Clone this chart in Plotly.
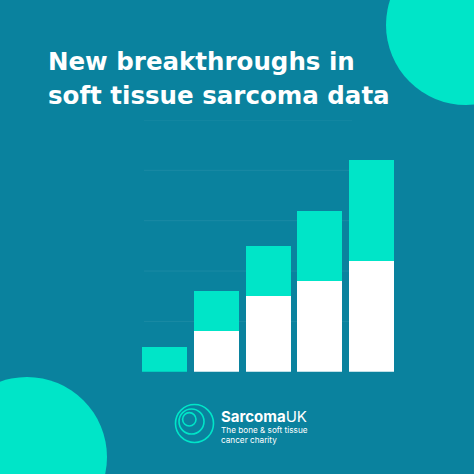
import plotly.graph_objects as go

# chart data
categories = ['1', '2', '3', '4', '5']
base_values = [0, 8, 15, 18, 22]      # white part
top_values = [5, 8, 10, 14, 20]       # cyan part on top
grid_levels = [10, 20, 30, 40, 50]

bg = '#0A829E'
cyan = '#00E5C8'
W = 474

def px(v):
    return v / W

fig = go.Figure()
fig.add_trace(go.Bar(x=categories, y=base_values, marker_color='white',
                     marker_line_width=0, name='base'))
fig.add_trace(go.Bar(x=categories, y=top_values, marker_color=cyan,
                     marker_line_width=0, name='top'))

shapes = []
# faint grid lines
for g in grid_levels:
    shapes.append(dict(type='line', xref='paper', yref='y', x0=px(144), x1=px(352),
                       y0=g, y1=g, line=dict(color='rgba(255,255,255,0.07)', width=1),
                       layer='below'))
# big decorative circles
shapes.append(dict(type='circle', xref='paper', yref='paper', x0=px(386), x1=px(546),
                   y0=px(W - 105), y1=px(W + 55), fillcolor=cyan, line_width=0, layer='below'))
shapes.append(dict(type='circle', xref='paper', yref='paper', x0=px(-53), x1=px(107),
                   y0=px(W - 537), y1=px(W - 377), fillcolor=cyan, line_width=0, layer='below'))
# logo rings
for cx, cy, r in [(194.5, 423.5, 19), (191.5, 421.5, 12.5), (189.3, 419.3, 6.7)]:
    shapes.append(dict(type='circle', xref='paper', yref='paper',
                       x0=px(cx - r), x1=px(cx + r), y0=px(W - cy - r), y1=px(W - cy + r),
                       line=dict(color=cyan, width=1.6)))

title_font = dict(size=24.5, color='white', family='DejaVu Sans')
small_font = dict(size=8.2, color='white', family='Inter')
annotations = [
    dict(text='<b>New breakthroughs in</b>', x=px(46), y=px(W - 62), xanchor='left',
         yanchor='middle', font=title_font),
    dict(text='<b>soft tissue sarcoma data</b>', x=px(46), y=px(W - 96), xanchor='left',
         yanchor='middle', font=title_font),
    dict(text='<b>Sarcoma</b>UK', x=px(219), y=px(W - 416), xanchor='left',
         yanchor='middle', font=dict(size=15, color='white', family='Inter')),
    dict(text='The bone &amp; soft tissue', x=px(219), y=px(W - 429.5), xanchor='left',
         yanchor='middle', font=small_font),
    dict(text='cancer charity', x=px(219), y=px(W - 439.5), xanchor='left',
         yanchor='middle', font=small_font),
]
for a in annotations:
    a.update(xref='paper', yref='paper', showarrow=False)

fig.update_layout(
    width=W, height=W,
    margin=dict(l=0, r=0, t=0, b=0),
    paper_bgcolor=bg, plot_bgcolor=bg,
    barmode='stack', bargap=0.13,
    showlegend=False,
    xaxis=dict(domain=[px(139), px(397.5)], showticklabels=False, showgrid=False,
               zeroline=False, fixedrange=True),
    yaxis=dict(domain=[px(W - 371.7), px(W - 120)], range=[0, 50], showticklabels=False,
               showgrid=False, zeroline=False, fixedrange=True),
    shapes=shapes,
    annotations=annotations,
)

fig.write_html("out.html", config={'displayModeBar': False},
               post_script="document.body.style.margin='0';")
